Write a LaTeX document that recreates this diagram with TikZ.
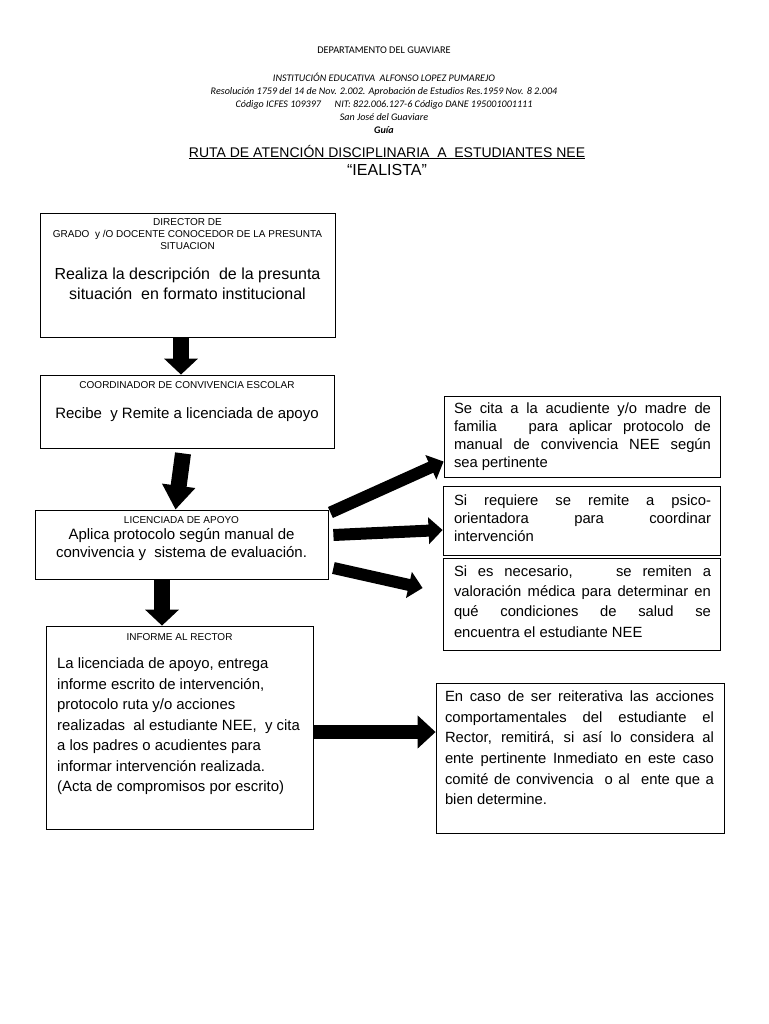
\documentclass[tikz,border=0pt]{standalone}
\usepackage{fontspec}
\setmainfont{Liberation Sans}
\newfontfamily\calib{Carlito}
\usepackage{tikz}
\usetikzlibrary{arrows.meta,positioning}

\begin{document}
\begin{tikzpicture}[x=1pt,y=-1pt,
	box/.style={draw, line width=0.8pt, rectangle, inner sep=0pt},
	hd/.style={align=center, font=\fontsize{10}{12}\selectfont},
	bd/.style={align=center, font=\fontsize{15}{18}\selectfont},
	rt/.style={text width=257pt, inner sep=0pt, align=justify, font=\fontsize{14.8}{18}\selectfont},
	bigarrow/.style={line width=16pt, -{Triangle[length=16pt,width=33pt]}},
	midarrow/.style={line width=12pt, -{Triangle[length=14pt,width=26pt]}}]
	\useasboundingbox (0,0) rectangle (768,1024);

	% header
	\node (dep) [font=\calib\fontsize{10.3}{12}\selectfont] at (384,50) {DEPARTAMENTO DEL GUAVIARE};
	\node (inst) [align=center, font=\calib\itshape\fontsize{10.1}{13}\selectfont] at (384,103) {%
		INSTITUCIÓN EDUCATIVA\ \ ALFONSO LOPEZ PUMAREJO\\
		Resolución 1759 del 14 de Nov. 2.002. Aprobación de Estudios Res.1959 Nov. 8 2.004\\
		Código ICFES 109397\ \ \ \ \ \ NIT: 822.006.127-6 Código DANE 195001001111\\
		San José del Guaviare\\
		\textbf{Guía}};
	\node (tit) [font=\fontsize{14}{16}\selectfont] at (387,152) {\underline{RUTA DE ATENCIÓN DISCIPLINARIA\ \ A\ \ ESTUDIANTES NEE}};
	\node (ie) [font=\fontsize{16}{18}\selectfont] at (387,170) {“IEALISTA”};

	% left column
	\node (dir) [box, minimum width=295pt, minimum height=124pt] at (187.5,275) {};
	\node (dirh) [hd] at (187.5,234) {DIRECTOR DE\\GRADO\ \ y /O DOCENTE CONOCEDOR DE LA PRESUNTA\\SITUACION};
	\node (dirt) [bd, font=\fontsize{16}{20}\selectfont] at (187.5,284) {Realiza la descripción\ \ de la presunta\\situación\ \ en formato institucional};

	\node (coord) [box, minimum width=294pt, minimum height=73pt] at (187,411.5) {};
	\node (coordh) [hd] at (187,385) {COORDINADOR DE CONVIVENCIA ESCOLAR};
	\node (coordt) [bd] at (187,415) {Recibe\ \ y Remite a licenciada de apoyo};

	\node (lic) [box, minimum width=293pt, minimum height=69pt] at (181.5,544.5) {};
	\node (lich) [hd] at (181.5,520) {LICENCIADA DE APOYO};
	\node (lict) [bd] at (181.5,545) {Aplica protocolo según manual de\\convivencia y\ \ sistema de evaluación.};

	\node (inf) [box, minimum width=267pt, minimum height=203pt] at (179.5,727.5) {};
	\node (infh) [hd] at (179.5,637) {INFORME AL RECTOR};
	\node (inft) [anchor=west, inner sep=0pt, align=left, font=\fontsize{14.9}{20.5}\selectfont] at (57,726.5) {%
		La licenciada de apoyo, entrega\\
		informe escrito de intervención,\\
		protocolo ruta y/o acciones\\
		realizadas\ \ al estudiante NEE,\ \ y cita\\
		a los padres o acudientes para\\
		informar intervención realizada.\\
		(Acta de compromisos por escrito)};

	% right column
	\node (cita) [box, minimum width=276pt, minimum height=81pt] at (582,436.5) {};
	\node (citat) [rt] at (582.5,437) {%
		Se cita a la acudiente y/o madre de\linebreak
		familia\ \ \ para aplicar protocolo de\linebreak
		manual de convivencia NEE según\linebreak
		sea pertinente};

	\node (psico) [box, minimum width=277pt, minimum height=69pt] at (581.5,520.5) {};
	\node (psicot) [rt] at (582.5,518) {%
		Si requiere se remite a psico-\linebreak
		orientadora para coordinar\linebreak
		intervención};

	\node (medica) [box, minimum width=277pt, minimum height=92pt] at (581.5,604) {};
	\node (medicat) [rt, font=\fontsize{14.8}{20.3}\selectfont] at (582.5,601.5) {%
		Si es necesario,\ \ \ \ se remiten a\linebreak
		valoración médica para determinar en\linebreak
		qué condiciones de salud se\linebreak
		encuentra el estudiante NEE};

	\node (rector) [box, minimum width=288pt, minimum height=150pt] at (580,758) {};
	\node (rectort) [rt, text width=269pt, font=\fontsize{14.8}{20.6}\selectfont] at (579.5,748) {%
		En caso de ser reiterativa las acciones\linebreak
		comportamentales del estudiante el\linebreak
		Rector, remitirá, si así lo considera al\linebreak
		ente pertinente Inmediato en este caso\linebreak
		comité de convivencia\ \ o al\ \ ente que a\linebreak
		bien determine.};

	% arrows
	\draw [bigarrow] ([xshift=-6.5pt]dir.south) to ([xshift=-6pt]coord.north);
	\draw [bigarrow, -{Triangle[length=24pt,width=32pt]}] ([xshift=-4pt,yshift=-5pt]coord.south) to ([xshift=-6pt]lic.north);
	\draw [bigarrow] ([xshift=-19.5pt]lic.south) to ([xshift=-17.5pt]inf.north);
	\draw [midarrow] ([xshift=2pt,yshift=32pt]lic.east) to ([yshift=-25pt]cita.west);
	\draw [midarrow] ([xshift=5pt,yshift=9.5pt]lic.east) to ([yshift=-9.5pt]psico.west);
	\draw [midarrow] ([xshift=5pt,yshift=-23.5pt]lic.east) to ([xshift=-20pt,yshift=16pt]medica.west);
	\draw [bigarrow, line width=14pt, -{Triangle[length=18pt,width=32pt]}] ([yshift=-4.5pt]inf.east) to ([yshift=26pt]rector.west);
\end{tikzpicture}
\end{document}
